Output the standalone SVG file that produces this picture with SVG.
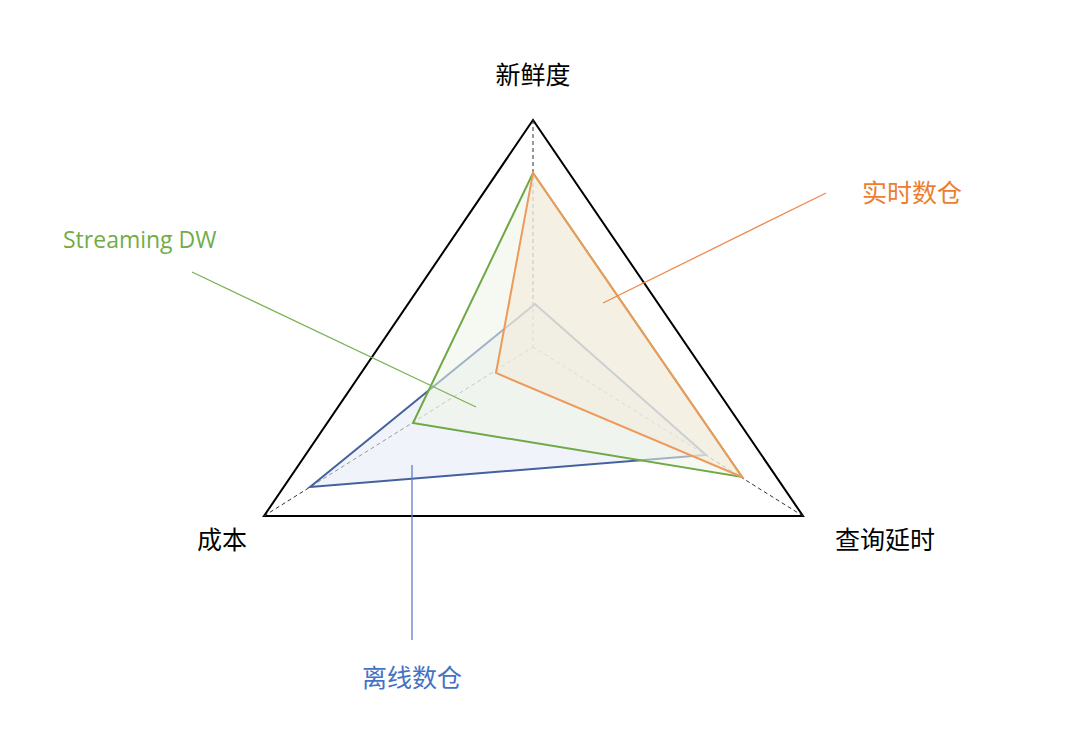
<svg xmlns="http://www.w3.org/2000/svg" width="1080" height="733" viewBox="0 0 1080 733">
<style>
text{font-family:"Noto Sans CJK SC","Liberation Sans",sans-serif;font-size:25px}
.ax{stroke:#333;stroke-width:1;stroke-dasharray:4,3;fill:none}
</style>
<rect width="1080" height="733" fill="#fff"/>
<g id="frame">
<polygon points="533,120 264,516 803,516" fill="none" stroke="#000" stroke-width="2"/>
<path class="ax" d="M533,120 L533,347 M264,516 L533,347 M803,516 L533,347"/>
</g>
<g id="offline"><polygon points="535,304 706,455 310,487" fill="#e6e9f5" fill-opacity="0.55" stroke="#44619f" stroke-width="2"/></g>
<g id="streaming"><polygon points="533,173 742,477 413,423" fill="#eef4e6" fill-opacity="0.55" stroke="#6fa847" stroke-width="2"/></g>
<g id="realtime"><polygon points="533,173 742,477 496,373" fill="#f3ead8" fill-opacity="0.55" stroke="#ed9a5a" stroke-width="2"/></g>
<g id="connectors" fill="none" stroke-width="1.3">
<line x1="192" y1="272" x2="476" y2="407" stroke="#7cb356"/>
<line x1="826" y1="193" x2="603" y2="303" stroke="#ed8a4a"/>
<line x1="412" y1="465" x2="412" y2="640" stroke="#5b7ec6"/>
</g>
<g id="labels">
<text x="533" y="84" text-anchor="middle">新鲜度</text>
<text x="222" y="549" text-anchor="middle">成本</text>
<text x="885" y="549" text-anchor="middle">查询延时</text>
<text x="912" y="202" text-anchor="middle" fill="#ed7d31">实时数仓</text>
<text x="63" y="248" fill="#70ad47" style="font-family:'Open Sans','Liberation Sans',sans-serif;font-size:23px">Streaming DW</text>
<text x="412" y="687" text-anchor="middle" fill="#4472c4">离线数仓</text>
</g>
</svg>
